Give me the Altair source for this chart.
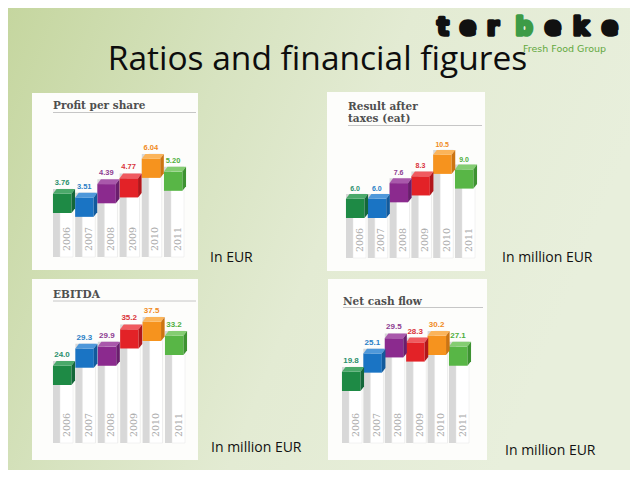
import altair as alt
import pandas as pd

# ---------------- data ----------------
years = ["2006", "2007", "2008", "2009", "2010", "2011"]
profit_per_share = [3.76, 3.51, 4.39, 4.77, 6.04, 5.20]
result_after_taxes = [6.0, 6.0, 7.6, 8.3, 10.5, 9.0]
ebitda = [24.0, 29.3, 29.9, 35.2, 37.5, 33.2]
net_cash_flow = [19.8, 25.1, 29.5, 28.3, 30.2, 27.1]

panel_titles = [["Profit per share"], ["Result after", "taxes (eat)"], ["EBITDA"], ["Net cash flow"]]
unit_labels = ["In EUR", "In million EUR", "In million EUR", "In million EUR"]
slide_title = "Ratios and financial figures"
logo_letters = ["t", "e", "r", "b", "e", "k", "e"]
logo_tagline = "Fresh Food Group"

front_colors = ["#1e8a45", "#1a74c4", "#8b2a8e", "#e32227", "#f6931e", "#58b646"]
top_colors = ["#4aa96a", "#4e98da", "#a958ab", "#f05a5f", "#fbb45a", "#84cd72"]
side_colors = ["#14673a", "#125a9c", "#6a1e6d", "#b2161b", "#cc7412", "#3d9231"]
label_colors = ["#2b8f6c", "#2a80c6", "#8d3c91", "#d9343a", "#f08a1c", "#4fae3c"]

W, H = 622, 462
one = pd.DataFrame({"dummy": [0]})

FRONT = "M-0.92,-0.6L0.62,-0.6L0.62,1L-0.92,1Z"
TOP = "M-0.92,-0.6L-0.62,-1L0.92,-1L0.62,-0.6Z"
SIDE = "M0.62,-0.6L0.92,-1L0.92,0.62L0.62,1Z"


def panel(values, fmt, xr, k, vref, pxref, base, label_size):
    lo = vref - (base - pxref) / k
    df = pd.DataFrame({
        "year": years, "value": values,
        "front": front_colors, "top": top_colors,
        "side": side_colors, "label": label_colors,
    })
    xs = alt.Scale(type="band", domain=years, range=xr, paddingInner=0, paddingOuter=0)
    ys = alt.Scale(domain=[lo, vref], range=[base, pxref], zero=False, nice=False)
    X = alt.X("year:N", scale=xs, axis=None)
    Y = alt.Y("value:Q", scale=ys, axis=None)
    c = alt.Chart(df)
    gray = c.mark_bar(width=20, xOffset=-1, color="#d8d8d8").encode(x=X, y=Y, y2=alt.datum(lo))
    white = c.mark_bar(width=13, xOffset=2.5, color="#ffffff", stroke="#e6e6e6",
                       strokeWidth=0.5).encode(x=X, y=Y, y2=alt.datum(lo))

    def face(path, col):
        return c.mark_point(shape=path, size=576, filled=True, opacity=1, strokeWidth=0,
                            yOffset=12).encode(x=X, y=Y, fill=alt.Fill(f"{col}:N", scale=None))

    yrs = c.mark_text(angle=270, font="DejaVu Serif", fontSize=9.5, color="#ababab",
                      yOffset=-18, xOffset=2.5).encode(
        x=X, y=alt.Y(datum=lo, scale=ys, axis=None), text="year:N")
    vals = c.mark_text(fontSize=label_size, fontWeight="bold", baseline="bottom", dx=-2, dy=-2,
                       font="Liberation Sans").encode(
        x=X, y=Y, text=alt.Text("value:Q", format=fmt),
        color=alt.Color("label:N", scale=None))
    return alt.layer(gray, white, face(FRONT, "front"), face(TOP, "top"), face(SIDE, "side"), yrs, vals)


def box(x0, y0, x1, y1, color="#fdfdfb"):
    return alt.Chart(one).mark_rect(color=color).encode(
        x=alt.value(x0), x2=alt.value(x1), y=alt.value(y0), y2=alt.value(y1))


def rule(x0, x1, y):
    return alt.Chart(one).mark_rule(color="#c6c6c6", strokeWidth=1).encode(
        x=alt.value(x0), x2=alt.value(x1), y=alt.value(y))


def text(t, x, y, **kw):
    return alt.Chart(one).mark_text(text=t, **kw).encode(x=alt.value(x), y=alt.value(y))


bg = alt.Chart(one).mark_rect(
    color=alt.LinearGradient(
        gradient="linear", x1=0, y1=0, x2=1, y2=0.3,
        stops=[alt.GradientStop(offset=0, color="#c5d69f"),
               alt.GradientStop(offset=0.35, color="#d7e3c0"),
               alt.GradientStop(offset=0.6, color="#e3ebd3"),
               alt.GradientStop(offset=1, color="#e8efdc")])
).encode(x=alt.value(0), x2=alt.value(W), y=alt.value(0), y2=alt.value(H))

layers = [bg,
          box(24, 85, 190, 262), box(319, 84, 477, 263),
          box(24, 271, 190, 452), box(320, 271, 479, 452),
          rule(45, 188, 104.5), rule(340, 474, 117.5),
          rule(45, 188, 293), rule(335, 475, 299.5)]

ptitle = dict(align="left", baseline="alphabetic", font="DejaVu Serif", fontWeight="bold",
              fontSize=10.5, color="#4f4f4f")
layers += [text(panel_titles[0][0], 45, 100.5, **ptitle),
           text(panel_titles[1][0], 340, 101.5, **ptitle),
           text(panel_titles[1][1], 340, 114, **ptitle),
           text(panel_titles[2][0], 45, 289.5, **ptitle),
           text(panel_titles[3][0], 335, 296.5, **ptitle)]

layers += [
    panel(profit_per_share, ".2f", [44.9, 178.1], 15.4, 3.76, 181, 249, 7.5),
    panel(result_after_taxes, ".1f", [338.1, 468.9], 9.8, 6.0, 186, 250, 7),
    panel(ebitda, ".1f", [44.8, 179.2], 3.26, 24.0, 353, 435, 8),
    panel(net_cash_flow, ".1f", [334.3, 462.7], 3.46, 19.8, 359, 435, 8),
]

unit = dict(align="left", baseline="alphabetic", font="Open Sans", fontSize=14, color="#111111")
layers += [text(unit_labels[0], 202, 254, **unit),
           text(unit_labels[1], 494, 254, **unit),
           text(unit_labels[2], 203, 444, **unit),
           text(unit_labels[3], 497, 447, **unit)]

layers.append(text(slide_title, 309.5, 62, align="center", baseline="alphabetic",
                   font="Open Sans", fontSize=33.5, color="#0d0d0d"))

logo_x = [435, 460, 485, 516, 545, 573, 602]
for letter, lx in zip(logo_letters, logo_x):
    col = "#3d9b47" if letter == "b" else "#111111"
    layers.append(text(letter, lx, 26.5, align="center", baseline="alphabetic",
                       font="DejaVu Sans", fontWeight="bold", fontSize=24,
                       color=col, stroke=col, strokeWidth=3.5, strokeJoin="round"))
layers.append(text(logo_tagline, 515, 44, align="left", baseline="alphabetic",
                   font="DejaVu Sans", fontSize=9.5, color="#62a83e"))

chart = alt.layer(*layers).resolve_scale(x="independent", y="independent").properties(
    width=W, height=H, padding=0
).configure_view(stroke=None)

chart.save("out.html", embed_options={"renderer": "svg", "actions": False})
